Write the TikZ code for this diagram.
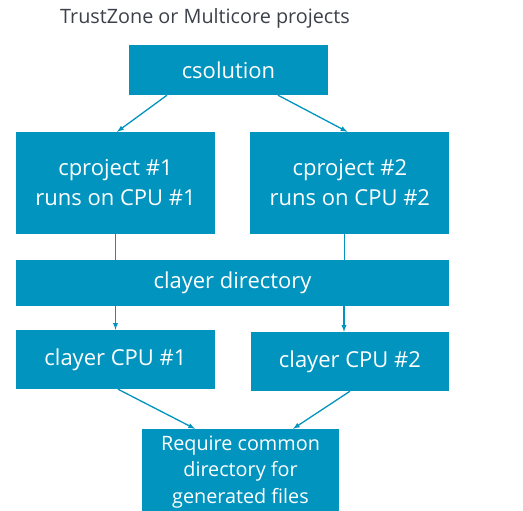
\documentclass[tikz,border=0pt]{standalone}
\usepackage{fontspec}
\setmainfont{Open Sans}
\usetikzlibrary{arrows,positioning}
\definecolor{armblue}{HTML}{0094BF}
\definecolor{titlegray}{HTML}{3C4049}

\begin{document}
\begin{tikzpicture}[x=1pt,y=1pt]
        \tikzstyle{block}=[rectangle, fill=armblue, text=white, align=center, inner sep=2pt, font=\fontsize{22}{30}\selectfont]
        \tikzstyle{wide}=[block, minimum width=199pt]
        \tikzstyle{connect}=[-latex, line width=1.3pt, draw=armblue]
        \useasboundingbox (0,0) rectangle (523,-511);
        \node[text=titlegray, font=\fontsize{19.8}{22}\selectfont] (title) at (205,-18) {TrustZone or Multicore projects};
        \node[wide, minimum height=50pt] (csol) at (228.5,-70) {csolution};
        \node[wide, minimum height=102pt] (proj1) at (115.5,-183) {cproject \#1\\runs on CPU \#1};
        \node[wide, minimum height=102pt] (proj2) [right=35pt of proj1] {cproject \#2\\runs on CPU \#2};
        \node[block, minimum width=433pt, minimum height=46pt] (layerdir) at (232.5,-283) {clayer directory};
        \node[wide, minimum height=59pt] (cpu1) at (115.5,-359.5) {clayer CPU \#1};
        \node[wide, minimum width=198pt, minimum height=59pt] (cpu2) at (350,-361.5) {clayer CPU \#2};
        \node[block, minimum width=197pt, minimum height=86pt, font=\fontsize{19.8}{26.5}\selectfont] (req) at (240.5,-472) {Require common\\directory for\\generated files};
        \coordinate (proj2out) at ([xshift=-5.5pt]proj2.south);
        \coordinate (cpu2in) at ([xshift=-6pt]cpu2.north);
        \path ([xshift=-61.5pt]csol.south) edge [connect] ([xshift=1.5pt]proj1.north)
        ([xshift=49.5pt]csol.south) edge [connect] ([xshift=-2.5pt]proj2.north);
        \draw[line width=1.3pt, armblue] (proj1.south) -- (proj1.south |- layerdir.north)
        (proj2out) -- (proj2out |- layerdir.north);
        \path (layerdir.south -| proj1.south) edge [connect] (cpu1.north)
        (layerdir.south -| cpu2in) edge [connect] (cpu2in);
        \path ([xshift=2.5pt]cpu1.south) edge [connect] ([xshift=-45.5pt]req.north)
        (cpu2.south) edge [connect] ([xshift=52.5pt]req.north);
      \end{tikzpicture}
\end{document}
